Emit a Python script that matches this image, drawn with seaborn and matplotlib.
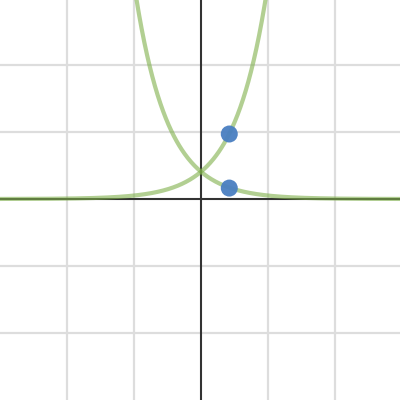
import numpy as np
import pandas as pd
import seaborn as sns
import matplotlib.pyplot as plt

# 曲线参数（从图上读出的网格单位）
scale = 0.407        # 两条曲线在 x=0 处的高度
base = 7.9           # 每个网格单位的增长倍数
x_grid = np.linspace(-3.0, 3.0, 600)

# 两个标记点
point_x = [0.422, 0.422]
point_y = [0.97, 0.163]

# 网格线位置
grid_ticks = [-2, -1, 1, 2]

curves = pd.concat([
    pd.DataFrame({'x': x_grid, 'y': scale * base ** x_grid, 'curve': 'growth'}),
    pd.DataFrame({'x': x_grid, 'y': scale * base ** (-x_grid), 'curve': 'decay'}),
])
points = pd.DataFrame({'x': point_x, 'y': point_y})

sns.set_style('white')
fig = plt.figure(figsize=(4, 4), dpi=100)
ax = fig.add_axes([0, 0, 1, 1])

# 网格和坐标轴
ax.set_xticks(grid_ticks)
ax.set_yticks(grid_ticks)
ax.grid(True, color='#dddddd', linewidth=1.6, zorder=0)
ax.axhline(0, color='#333333', linewidth=1.5, zorder=1)
ax.axvline(0, color='#333333', linewidth=1.5, zorder=1)

# 绘制曲线和点
sns.lineplot(data=curves, x='x', y='y', units='curve', estimator=None,
             color='#7fb04a', alpha=0.6, linewidth=3.0, sort=False, ax=ax, zorder=2)
sns.scatterplot(data=points, x='x', y='y', color='#4a7fc1', s=150,
                edgecolor='none', alpha=0.95, ax=ax, zorder=3)

ax.set_xlim(-3.0, 2.97)
ax.set_ylim(-3.0, 2.97)
ax.set_xlabel('')
ax.set_ylabel('')
ax.tick_params(left=False, bottom=False, labelleft=False, labelbottom=False)
for s in ax.spines.values():
    s.set_visible(False)

plt.savefig('out.png', dpi=100)
